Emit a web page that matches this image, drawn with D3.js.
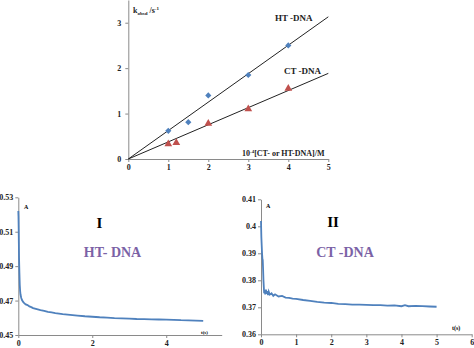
<!DOCTYPE html>
<html lang="en">
<head>
<meta charset="UTF-8">
<script src="https://d3js.org/d3.v7.min.js"></script>
<style>
    body { margin: 0; background: #fff; }
    svg { display: block; font-family: "Liberation Serif", "DejaVu Serif", serif; }
    .axis path, .axis line { stroke: #8a8a8a; }
    .axis text { font-family: "Liberation Serif", serif; font-weight: bold; font-size: 8px; fill: #222; }
</style>
<title>kobsd vs DNA</title>
</head>
<body>
<svg id="chart" width="474" height="348"></svg>
<script>
    // top plot: kobsd vs 10^-4 [DNA]
    var htConc = [1, 1.5, 2, 3, 4];
    var htK = [0.62, 0.81, 1.40, 1.85, 2.50];
    var ctConc = [1, 1.2, 2, 3, 4];
    var ctK = [0.33, 0.36, 0.78, 1.10, 1.55];
    var htSlope = 0.626;
    var ctSlope = 0.377;
    var topXTicks = [0, 1, 2, 3, 4, 5];
    var topYTicks = [0, 1, 2, 3];

    // kinetic trace I (HT-DNA)
    var t1 = [0, 0.005, 0.01, 0.015, 0.02, 0.03, 0.04, 0.05, 0.06, 0.08, 0.1, 0.13, 0.16, 0.2, 0.25, 0.3, 0.35, 0.4, 0.5, 0.6, 0.7, 0.8, 0.9, 1.0, 1.2, 1.4, 1.6, 1.8, 2.0, 2.2, 2.4, 2.6, 2.8, 3.0, 3.2, 3.4, 3.6, 3.8, 4.0, 4.2, 4.4, 4.6, 4.8, 5.0];
    var a1 = [0.522, 0.519, 0.512, 0.503, 0.495, 0.486, 0.479, 0.4755, 0.4735, 0.4715, 0.4703, 0.4692, 0.4685, 0.4678, 0.4674, 0.4666, 0.4662, 0.4656, 0.4650, 0.4644, 0.4640, 0.4634, 0.4631, 0.4627, 0.4621, 0.4617, 0.4613, 0.4609, 0.4606, 0.4603, 0.4601, 0.4598, 0.4597, 0.4595, 0.4593, 0.4592, 0.4591, 0.4590, 0.4589, 0.4588, 0.4586, 0.4585, 0.4584, 0.4582];
    var ticksX1 = [0, 2, 4];
    var ticksY1 = [0.45, 0.47, 0.49, 0.51, 0.53];

    // kinetic trace II (CT-DNA)
    var t2 = [0, 0.005, 0.01, 0.02, 0.03, 0.04, 0.05, 0.06, 0.07, 0.08, 0.09, 0.1, 0.12, 0.14, 0.16, 0.18, 0.2, 0.22, 0.25, 0.3, 0.35, 0.4, 0.5, 0.6, 0.7, 0.8, 0.9, 1.0, 1.2, 1.4, 1.6, 1.8, 2.0, 2.2, 2.4, 2.6, 2.8, 3.0, 3.2, 3.4, 3.6, 3.8, 4.0, 4.1, 4.2, 4.4, 4.6, 4.8, 5.0];
    var a2 = [0.402, 0.399, 0.396, 0.393, 0.390, 0.388, 0.3875, 0.384, 0.380, 0.3775, 0.3752, 0.3762, 0.3748, 0.3765, 0.3750, 0.3760, 0.3745, 0.3758, 0.3747, 0.3752, 0.3742, 0.3748, 0.3740, 0.3742, 0.3736, 0.3735, 0.3732, 0.3731, 0.3727, 0.3724, 0.3720, 0.3717, 0.3716, 0.3713, 0.3712, 0.3710, 0.3710, 0.3709, 0.3708, 0.3708, 0.3706, 0.3707, 0.3704, 0.3708, 0.3704, 0.3705, 0.3704, 0.3703, 0.3702];
    var ticksX2 = [0, 1, 2, 3, 4, 5, 6];
    var ticksY2 = [0.36, 0.37, 0.38, 0.39, 0.4, 0.41];

    var blue = "#4f81bd", red = "#c0504d", purple = "#7b62a6";
    var svg = d3.select("#chart");
    var intFmt = d3.format("d");

    function styleAxis(g) {
        g.attr("class", "axis");
        g.selectAll(".tick line").attr("stroke", "#8a8a8a");
        g.selectAll(".tick text").attr("fill", "#222");
    }

    // ---------- top plot ----------
    var x = d3.scaleLinear().domain([0, 5]).range([128.3, 328.3]);
    var y = d3.scaleLinear().domain([0, 3.5]).range([159, 0]);
    var topG = svg.append("g");

    topG.append("g").attr("transform", "translate(0,159)")
        .call(d3.axisBottom(x).tickValues(topXTicks).tickFormat(intFmt).tickSize(3).tickPadding(2).tickSizeOuter(0))
        .call(styleAxis);
    topG.append("g").attr("transform", "translate(128.3,0)")
        .call(d3.axisLeft(y).tickValues(topYTicks).tickFormat(intFmt).tickSize(3).tickPadding(4).tickSizeOuter(0))
        .call(styleAxis);

    topG.append("line").attr("x1", x(0)).attr("y1", y(0)).attr("x2", x(5)).attr("y2", y(5 * htSlope))
        .attr("stroke", "#222").attr("stroke-width", 1);
    topG.append("line").attr("x1", x(0)).attr("y1", y(0)).attr("x2", x(5)).attr("y2", y(5 * ctSlope))
        .attr("stroke", "#222").attr("stroke-width", 1);

    topG.selectAll(".ht").data(htConc).enter().append("path")
        .attr("d", d3.symbol().type(d3.symbolSquare).size(19))
        .attr("transform", function (d, i) { return "translate(" + x(d) + "," + y(htK[i]) + ") rotate(45)"; })
        .attr("fill", blue);
    topG.selectAll(".ct").data(ctConc).enter().append("path")
        .attr("d", d3.symbol().type(d3.symbolTriangle).size(26))
        .attr("transform", function (d, i) { return "translate(" + x(d) + "," + y(ctK[i]) + ")"; })
        .attr("fill", red);

    var kLab = topG.append("text").attr("x", 133).attr("y", 13)
        .attr("font-weight", "bold").attr("font-size", 8).attr("fill", "#222");
    kLab.append("tspan").text("k");
    kLab.append("tspan").attr("font-size", 5).attr("dy", 2).text("obsd");
    kLab.append("tspan").attr("dy", -2).text(" /s");
    kLab.append("tspan").attr("font-size", 5).attr("dy", -3).text("-1");

    topG.append("text").attr("x", 275).attr("y", 21).attr("font-weight", "bold").attr("font-size", 9)
        .attr("fill", "#222").text("HT -DNA");
    topG.append("text").attr("x", 284).attr("y", 74).attr("font-weight", "bold").attr("font-size", 9)
        .attr("fill", "#222").text("CT -DNA");
    var cLab = topG.append("text").attr("x", 242).attr("y", 156).attr("font-weight", "bold")
        .attr("font-size", 8).attr("fill", "#222");
    cLab.append("tspan").text("10");
    cLab.append("tspan").attr("font-size", 5).attr("dy", -3).text("-4");
    cLab.append("tspan").attr("dy", 3).text("[CT- or HT-DNA]/M");

    // ---------- trace panels ----------
    function trace(ts, as, xr, yr, xd, yd, xt, yt, fmt) {
        var g = svg.append("g");
        var sx = d3.scaleLinear().domain(xd).range(xr);
        var sy = d3.scaleLinear().domain(yd).range(yr);
        g.append("g").attr("transform", "translate(0," + yr[0] + ")")
            .call(d3.axisBottom(sx).tickValues(xt).tickFormat(intFmt).tickSize(3).tickPadding(2).tickSizeOuter(0))
            .call(styleAxis);
        g.append("g").attr("transform", "translate(" + xr[0] + ",0)")
            .call(d3.axisLeft(sy).tickValues(yt).tickFormat(fmt).tickSize(3).tickPadding(2).tickSizeOuter(0))
            .call(styleAxis);
        g.append("path").datum(ts)
            .attr("d", d3.line().x(function (d) { return sx(d); }).y(function (d, i) { return sy(as[i]); }))
            .attr("fill", "none").attr("stroke", blue).attr("stroke-width", 1.8);
        return { g: g, sx: sx, sy: sy };
    }

    var p1 = trace(t1, a1, [18.3, 221.7], [335, 197.3], [0, 5.5], [0.45, 0.53], ticksX1, ticksY1, d3.format(".2f"));
    p1.g.selectAll(".axis text").filter(function (d) { return d < 1; }).attr("font-size", 7.5);
    p1.g.append("text").attr("x", 24).attr("y", 209).attr("font-size", 6).attr("font-weight", "bold").text("A");
    p1.g.append("text").attr("x", 201).attr("y", 334).attr("font-size", 5).attr("font-weight", "bold").text("t(s)");
    p1.g.append("text").attr("x", 99.5).attr("y", 228).attr("text-anchor", "middle").attr("font-size", 15)
        .attr("font-weight", "bold").text("I");
    p1.g.append("text").attr("x", 112.5).attr("y", 257).attr("text-anchor", "middle").attr("font-size", 14)
        .attr("font-weight", "bold").attr("fill", purple).text("HT- DNA");

    var p2 = trace(t2, a2, [261, 471.7], [334.3, 199.3], [0, 6], [0.36, 0.41], ticksX2, ticksY2, function (d) { return String(+d.toFixed(2)); });
    p2.g.append("text").attr("x", 266).attr("y", 208).attr("font-size", 6).attr("font-weight", "bold").text("A");
    p2.g.append("text").attr("x", 452).attr("y", 330).attr("font-size", 6).attr("font-weight", "bold").text("t(s)");
    p2.g.append("text").attr("x", 333).attr("y", 227).attr("text-anchor", "middle").attr("font-size", 15)
        .attr("font-weight", "bold").text("II");
    p2.g.append("text").attr("x", 345).attr("y", 257).attr("text-anchor", "middle").attr("font-size", 14)
        .attr("font-weight", "bold").attr("fill", purple).text("CT -DNA");
</script>
</body>
</html>
